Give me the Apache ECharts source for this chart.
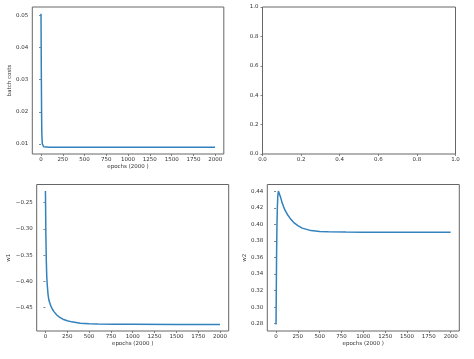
<!DOCTYPE html>
<html>
<head>
<meta charset="utf-8">
<script src="https://cdn.jsdelivr.net/npm/echarts@6/dist/echarts.min.js"></script>
<style>html,body{margin:0;padding:0;background:#fff;}#c{width:474px;height:359px;}</style>
</head>
<body>
<div id="c"></div>
<script>
// ---- data ----
var xTicks = [0, 250, 500, 750, 1000, 1250, 1500, 1750, 2000];
var costTicks = [0.01, 0.02, 0.03, 0.04, 0.05];
var w1Ticks = [-0.45, -0.40, -0.35, -0.30, -0.25];
var w2Ticks = [0.28, 0.30, 0.32, 0.34, 0.36, 0.38, 0.40, 0.42, 0.44];
var unitTicks = [0.0, 0.2, 0.4, 0.6, 0.8, 1.0];

var costEpochs = [0, 2, 4, 6, 8, 10, 15, 20, 30, 50, 100, 300, 1000, 1999];
var costs = [0.0506, 0.040, 0.030, 0.022, 0.016, 0.0125, 0.0100, 0.0094, 0.0091, 0.0090, 0.00895, 0.0089, 0.0089, 0.0089];

var w1Epochs = [0, 2, 5, 10, 15, 20, 30, 40, 60, 80, 100, 130, 160, 200, 250, 300, 400, 500, 600, 800, 1000, 1500, 1999];
var w1 = [-0.228, -0.26, -0.31, -0.36, -0.39, -0.405, -0.425, -0.436, -0.446, -0.453, -0.458, -0.464, -0.468, -0.472, -0.475, -0.477, -0.4795, -0.4806, -0.4812, -0.4816, -0.4817, -0.4818, -0.4818];

var w2Epochs = [0, 3, 6, 10, 15, 20, 27, 35, 50, 70, 100, 130, 160, 200, 250, 300, 400, 500, 600, 800, 1000, 1500, 1999];
var w2 = [0.279, 0.32, 0.36, 0.395, 0.42, 0.434, 0.4402, 0.439, 0.4335, 0.426, 0.4178, 0.412, 0.4075, 0.4025, 0.3985, 0.3955, 0.3925, 0.3915, 0.391, 0.3907, 0.3906, 0.3905, 0.3905];

function pairs(xs, ys) { return xs.map(function (x, i) { return [x, ys[i]]; }); }

var FONT = 'DejaVu Sans';
var FS = 5.5;
var LINE = '#3282bd';
var FRAME = '#666';

function fmtDec(d) {
  return function (v) { return v.toFixed(d).replace('-', '\u2212'); };
}

function xAxis(grid, name, ticks, min, max, dec) {
  return {
    type: 'value', gridIndex: grid, min: min, max: max,
    name: name, nameLocation: 'middle', nameGap: 9,
    nameTextStyle: { fontFamily: FONT, fontSize: FS, color: '#333' },
    axisLine: { show: false },
    splitLine: { show: false },
    axisTick: { show: true, length: 2, lineStyle: { color: FRAME, width: 0.8 }, customValues: ticks },
    axisLabel: { fontFamily: FONT, fontSize: FS, color: '#333', margin: 3, customValues: ticks, formatter: fmtDec(dec) }
  };
}
function yAxis(grid, name, ticks, min, max, dec, gap) {
  return {
    type: 'value', gridIndex: grid, min: min, max: max,
    name: name, nameLocation: 'middle', nameGap: gap, nameRotate: 90,
    nameTextStyle: { fontFamily: FONT, fontSize: FS, color: '#333' },
    axisLine: { show: false },
    splitLine: { show: false },
    axisTick: { show: true, length: 2, lineStyle: { color: FRAME, width: 0.8 }, customValues: ticks },
    axisLabel: { fontFamily: FONT, fontSize: FS, color: '#333', margin: 4, customValues: ticks, formatter: fmtDec(dec) }
  };
}

var gridStyle = { show: true, borderColor: FRAME, borderWidth: 1, backgroundColor: '#fff', containLabel: false };

var option = {
  backgroundColor: '#fff',
  animation: false,
  grid: [
    Object.assign({ left: 32.3, top: 7, width: 191.5, height: 147 }, gridStyle),
    Object.assign({ left: 262.5, top: 7, width: 193, height: 147 }, gridStyle),
    Object.assign({ left: 36.7, top: 184.5, width: 192, height: 146.5 }, gridStyle),
    Object.assign({ left: 267.3, top: 184.5, width: 192, height: 146.5 }, gridStyle)
  ],
  xAxis: [
    xAxis(0, 'epochs (2000 )', xTicks, -100, 2099, 0),
    xAxis(1, '', unitTicks, 0, 1, 1),
    xAxis(2, 'epochs (2000 )', xTicks, -100, 2099, 0),
    xAxis(3, 'epochs (2000 )', xTicks, -100, 2099, 0)
  ],
  yAxis: [
    yAxis(0, 'batch costs', costTicks, 0.00682, 0.05269, 2, 18),
    yAxis(1, '', unitTicks, 0, 1, 1, 18),
    yAxis(2, 'w1', w1Ticks, -0.4944, -0.2156, 2, 23),
    yAxis(3, 'w2', w2Ticks, 0.2712, 0.4482, 2, 19)
  ],
  series: [
    { type: 'line', xAxisIndex: 0, yAxisIndex: 0, data: pairs(costEpochs, costs), showSymbol: false, symbol: 'none', lineStyle: { color: LINE, width: 1.5 } },
    { type: 'line', xAxisIndex: 2, yAxisIndex: 2, data: pairs(w1Epochs, w1), showSymbol: false, symbol: 'none', lineStyle: { color: LINE, width: 1.5 } },
    { type: 'line', xAxisIndex: 3, yAxisIndex: 3, data: pairs(w2Epochs, w2), showSymbol: false, symbol: 'none', lineStyle: { color: LINE, width: 1.5 } }
  ]
};

var chart = echarts.init(document.getElementById('c'), null, { renderer: 'canvas' });
chart.setOption(option);
</script>
</body>
</html>
